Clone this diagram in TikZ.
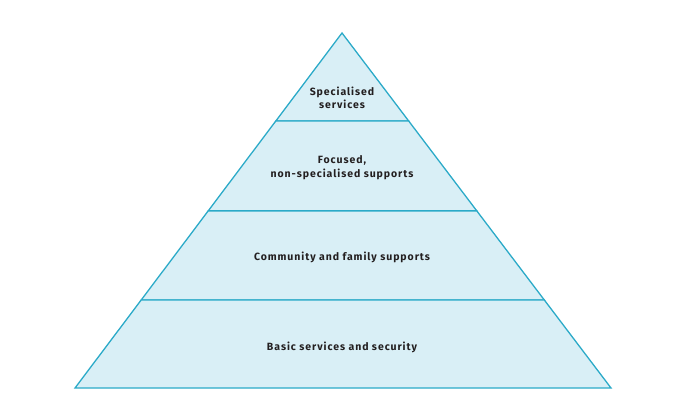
\documentclass[tikz,border=0pt]{standalone}
\usepackage{fontspec}
\setmainfont{Fira Sans}
\newfontfamily\tierfont[LetterSpace=9]{Fira Sans}
\usetikzlibrary{calc}

\definecolor{tierfill}{HTML}{D9EFF6}
\definecolor{tierline}{HTML}{2BAAC8}
\definecolor{tiertext}{HTML}{231F20}

\begin{document}
\begin{tikzpicture}[
  x=1pt, y=-1pt,
  every node/.style={font=\tierfont\bfseries\fontsize{10.5}{13.5}\selectfont, align=center, text=tiertext},
  tier/.style={draw=tierline, fill=tierfill, line width=1.3pt, line join=miter}
]
\useasboundingbox (0,0) rectangle (676,419);
\coordinate (apex) at (342,33);
\coordinate (bl) at (75,388);
\coordinate (br) at (611,388);
\coordinate (l1) at ($(apex)!0.248!(bl)$);
\coordinate (r1) at ($(apex)!0.248!(br)$);
\coordinate (l2) at ($(apex)!0.501!(bl)$);
\coordinate (r2) at ($(apex)!0.501!(br)$);
\coordinate (l3) at ($(apex)!0.752!(bl)$);
\coordinate (r3) at ($(apex)!0.752!(br)$);
% tiers, top to bottom
\draw[tier] (apex) -- (r1) -- (l1) -- cycle;
\draw[tier] (l1) -- (r1) -- (r2) -- (l2) -- cycle;
\draw[tier] (l2) -- (r2) -- (r3) -- (l3) -- cycle;
\draw[tier] (l3) -- (r3) -- (br) -- (bl) -- cycle;
\node (specialised) at (342,98) {Specialised\\services};
\node (focused) at (342,167.5) {Focused,\\non-specialised supports};
\node (community) at (342,257) {Community and family supports};
\node (basic) at (342,347) {Basic services and security};
\end{tikzpicture}
\end{document}
